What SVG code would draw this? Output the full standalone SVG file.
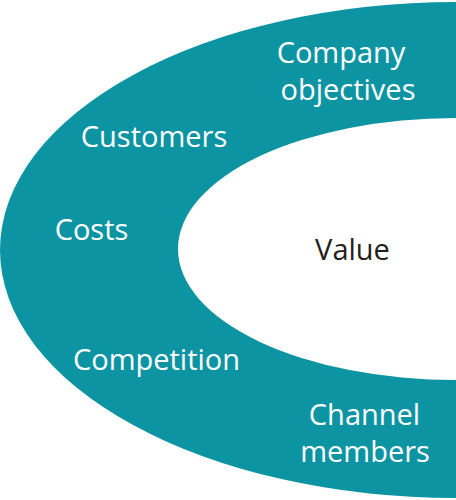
<svg xmlns="http://www.w3.org/2000/svg" width="456" height="500" viewBox="0 0 456 500">
<style>
.lbl{font-family:"Open Sans",Lato,sans-serif;font-size:29px;fill:#ffffff;text-anchor:middle;font-variant-ligatures:none}
.val{font-family:"Open Sans",Lato,sans-serif;font-size:29px;fill:#231f20;text-anchor:middle;font-variant-ligatures:none}
</style>
<rect width="456" height="500" fill="#ffffff"/>
<g id="ring">
<path d="M456,2 A456,248 0 0 0 456,498 Z" fill="#0D94A3"/>
</g>
<g id="value">
<path d="M456,118 A278,131 0 0 0 456,380 Z" fill="#ffffff"/>
<text class="val" x="352.5" y="260">Value</text>
</g>
<g id="company-objectives">
<text class="lbl" x="341" y="63">Company</text>
<text class="lbl" x="348" y="100">objectives</text>
</g>
<g id="customers"><text class="lbl" x="154" y="147">Customers</text></g>
<g id="costs"><text class="lbl" x="91.5" y="240">Costs</text></g>
<g id="competition"><text class="lbl" x="156.5" y="370">Competition</text></g>
<g id="channel-members">
<text class="lbl" x="364.5" y="425">Channel</text>
<text class="lbl" x="365" y="462">members</text>
</g>
<g id="connectors"/>
</svg>
